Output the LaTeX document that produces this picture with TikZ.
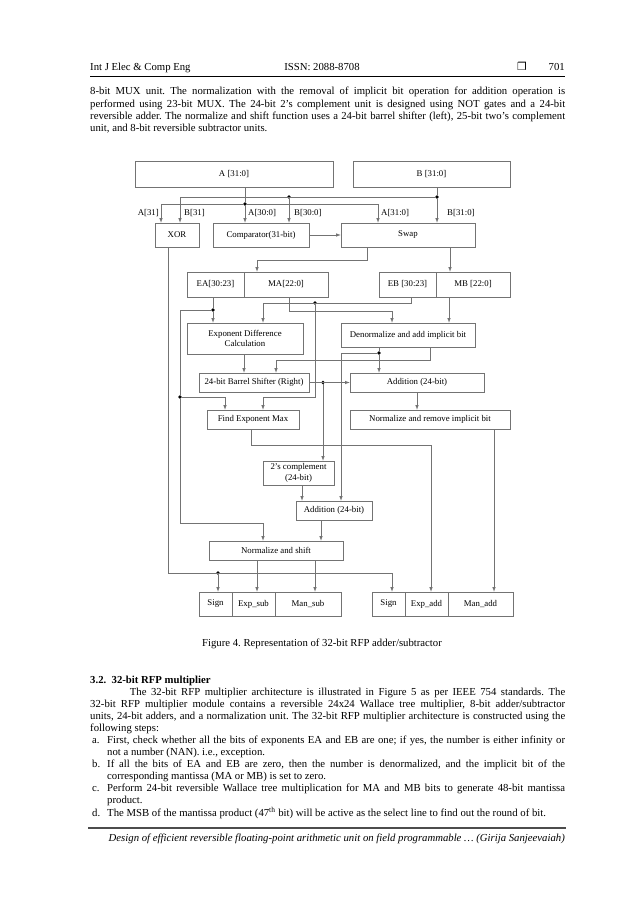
\documentclass[tikz,border=0pt]{standalone}
\usepackage{fontspec}
\setmainfont{Liberation Serif}
\newfontfamily\symf{DejaVu Sans}
\usetikzlibrary{arrows}
\frenchspacing

\def\pxu{0.9326pt}

\begin{document}
\begin{tikzpicture}[x=0.9326pt, y=-0.9326pt,
	blk/.style={draw=black!55, line width=0.5pt, inner sep=1pt, align=center, font=\fontsize{8.2}{9.6}\selectfont},
	lbl/.style={inner sep=0pt, font=\fontsize{8.2}{9.6}\selectfont},
	wire/.style={draw=black!55, line width=0.5pt},
	arr/.style={wire, -latex},
	jdot/.style={circle, fill=black, inner sep=0pt, minimum size=3.3pt},
	txt/.style={inner sep=0pt, font=\fontsize{10}{11.2}\selectfont}]
	\fill [white] (0,0) rectangle (638,902);
	\useasboundingbox (0,0) rectangle (638,902);

	% page header
	\node [txt, anchor=base west] (hleft) at (90,71) {Int J Elec \& Comp Eng};
	\node [txt, anchor=base] (hmid) at (322,71) {ISSN: 2088-8708};
	\node [txt, anchor=base] (hbox) at (522,71) {\symf ❒};
	\node [txt, anchor=base east] (hpage) at (565,71) {701};
	\draw [line width=0.6pt] (hleft.base west |- 0,76) -- (hpage.base east |- 0,76);

	\node [txt, anchor=base west, text width=443pt, align=justify] (para1) at (90,95)
	{8-bit MUX unit. The normalization with the removal of implicit bit operation for addition operation is\linebreak
	performed using 23-bit MUX. The 24-bit 2’s complement unit is designed using NOT gates and a 24-bit\linebreak
	reversible adder. The normalize and shift function uses a 24-bit barrel shifter (left), 25-bit two’s complement\linebreak
	unit, and 8-bit reversible subtractor units.};

	% figure 4 : inputs
	\node [blk, minimum width=198*\pxu, minimum height=26*\pxu] (A) at (234,174) {A [31:0]};
	\node [blk, minimum width=157*\pxu, minimum height=26*\pxu] (B) at (431.5,174) {B [31:0]};
	\node [jdot] (ja) at (245,204) {};
	\node [jdot] (jb) at (437,197) {};
	\node [jdot] (jc) at (289,197) {};

	\node [blk, minimum width=44*\pxu, minimum height=24*\pxu] (XOR) at (177,235) {XOR};
	\node [blk, minimum width=96*\pxu, minimum height=24*\pxu] (cmp) at (261,235) {Comparator(31-bit)};
	\node [blk, minimum width=134*\pxu, minimum height=24*\pxu] (swap) at (408,235) {Swap};

	\draw [wire] (A.south -| ja) -- (ja);
	\draw [arr] (ja) -- (ja |- cmp.north);
	\draw [arr] (ja) -| (XOR.north -| 161,0);
	\draw [arr] (ja) -| (swap.north -| 378,0);
	\draw [wire] (B.south -| jb) -- (jb);
	\draw [arr] (jb) -- (jb |- swap.north);
	\draw [arr] (jb) -| (XOR.north -| 180,0);
	\draw [arr] (jc) -- (jc |- cmp.north);
	\draw [arr] (cmp.east) -- (swap.west);

	\node [lbl, anchor=base east] (la31) at (159,215.5) {A[31]};
	\node [lbl, anchor=base west] (lb31) at (184,215.5) {B[31]};
	\node [lbl, anchor=base west] (la30) at (248,215.5) {A[30:0]};
	\node [lbl, anchor=base west] (lb30) at (294,215.5) {B[30:0]};
	\node [lbl, anchor=base west] (laall) at (381,215.5) {A[31:0]};
	\node [lbl, anchor=base west] (lball) at (447,215.5) {B[31:0]};

	% exponent / mantissa split
	\node [blk, minimum width=57*\pxu, minimum height=25*\pxu] (EA) at (215.5,284.5) {EA[30:23]};
	\node [blk, minimum width=84*\pxu, minimum height=25*\pxu] (MA) at (286,284.5) {MA[22:0]};
	\node [blk, minimum width=57*\pxu, minimum height=25*\pxu] (EB) at (407.5,284.5) {EB [30:23]};
	\node [blk, minimum width=74*\pxu, minimum height=25*\pxu] (MB) at (473,284.5) {MB [22:0]};
	\draw [arr] (swap.south -| 367,0) -- ++(0,13) -| (MA.north -| 257,0);
	\draw [arr] (swap.south -| 450,0) -- (MB.north -| 450,0);

	\node [blk, minimum width=116*\pxu, minimum height=31*\pxu] (expdiff) at (245,338.5) {Exponent Difference\\Calculation};
	\node [blk, minimum width=134*\pxu, minimum height=24*\pxu] (denorm) at (408,335) {Denormalize and add implicit bit};
	\node [jdot] (jd) at (213,310) {};
	\node [jdot] (je) at (180,397) {};
	\node [jdot] (jf) at (315,303) {};

	\draw [wire] (EA.south -| jd) -- (jd);
	\draw [arr] (jd) -- (jd |- expdiff.north);
	\draw [wire] (jd) -| (je);
	\draw [arr] (MA.south -| 289,0) -- ++(0,14) -| (denorm.north -| 392,0);
	\draw [arr] (EB.south -| 411,0) -- ++(0,6) -| (expdiff.north -| 263,0);
	\draw [arr] (MB.south -| 449,0) -- (denorm.north -| 449,0);

	% shifter and adder stage
	\node [blk, minimum width=110*\pxu, minimum height=19*\pxu] (barrel) at (254,382.5) {24-bit Barrel Shifter (Right)};
	\node [blk, minimum width=134*\pxu, minimum height=19*\pxu] (add1) at (417,382.5) {Addition (24-bit)};
	\node [jdot] (jg) at (379,353) {};
	\node [jdot] (jh) at (323,382.5) {};

	\draw [arr] (expdiff.south -| 244,0) -- (barrel.north -| 244,0);
	\draw [arr] (denorm.south -| 430,0) -- ++(0,13) -| (barrel.north -| 276,0);
	\draw [wire] (denorm.south -| jg) -- (jg);
	\draw [arr] (jg) -- (jg |- add1.north);
	\draw [arr] (barrel.east) -- (add1.west);

	\node [blk, minimum width=92*\pxu, minimum height=19*\pxu] (findmax) at (253,419.5) {Find Exponent Max};
	\node [blk, minimum width=160*\pxu, minimum height=19*\pxu] (normrem) at (430,419.5) {Normalize and remove implicit bit};
	\draw [arr] (je) -| (findmax.north -| 225,0);
	\draw [arr] (jf) -- ++(0,94) -| (findmax.north -| 263,0);
	\draw [arr] (add1.south) -- (add1.south |- normrem.north);

	% subtraction path
	\node [blk, minimum width=71*\pxu, minimum height=24*\pxu] (twos) at (298.5,473) {2's complement\\(24-bit)};
	\node [blk, minimum width=76*\pxu, minimum height=19*\pxu] (add2) at (334,510.5) {Addition (24-bit)};
	\node [blk, minimum width=134*\pxu, minimum height=19*\pxu] (normsh) at (276,550.5) {Normalize and shift};
	\draw [arr] (jh) -- (jh |- twos.north);
	\draw [arr] (jg) -| (add2.north -| 341,0);
	\draw [arr] (twos.south -| 302,0) -- (add2.north -| 302,0);
	\draw [arr] (add2.south -| 321,0) -- (normsh.north -| 321,0);
	\draw [arr] (je) -- ++(0,126) -| (normsh.north -| 263,0);

	% outputs
	\node [blk, minimum width=33*\pxu, minimum height=24*\pxu] (sign1) at (215.5,604) {Sign};
	\node [blk, minimum width=43*\pxu, minimum height=24*\pxu] (expsub) at (253.5,604) {Exp\_sub};
	\node [blk, minimum width=66*\pxu, minimum height=24*\pxu] (mansub) at (308,604) {Man\_sub};
	\node [blk, minimum width=33*\pxu, minimum height=24*\pxu] (sign2) at (388.5,604) {Sign};
	\node [blk, minimum width=43*\pxu, minimum height=24*\pxu] (expadd) at (426.5,604) {Exp\_add};
	\node [blk, minimum width=65*\pxu, minimum height=24*\pxu] (manadd) at (480.5,604) {Man\_add};
	\node [jdot] (ji) at (218,573) {};

	\draw [arr] (findmax.south -| 251,0) -- ++(0,16) -| (expadd.north -| 431,0);
	\draw [arr] (normrem.south -| 494,0) -- (manadd.north -| 494,0);
	\draw [arr] (XOR.south -| 168,0) -- ++(0,326) -| (sign2.north -| 392,0);
	\draw [arr] (ji) -- (ji |- sign1.north);
	\draw [arr] (normsh.south -| 257,0) -- (expsub.north -| 257,0);
	\draw [arr] (normsh.south -| 315,0) -- (mansub.north -| 315,0);

	\node [txt, anchor=base] (caption) at (322,646) {Figure 4. Representation of 32-bit RFP adder/subtractor};

	% section 3.2
	\node [txt, anchor=base west] (sechead) at (90,683) {\textbf{3.2.\ \ 32-bit RFP multiplier}};
	\node [txt, anchor=base west, text width=443pt, align=justify] (para2) at (90,695)
	{\hspace*{37pt}The 32-bit RFP multiplier architecture is illustrated in Figure 5 as per IEEE 754 standards. The\linebreak
	32-bit RFP multiplier module contains a reversible 24x24 Wallace tree multiplier, 8-bit adder/subtractor\linebreak
	units, 24-bit adders, and a normalization unit. The 32-bit RFP multiplier architecture is constructed using the\linebreak
	following steps:};

	\node [txt, anchor=base west] (ia) at (92,743) {a.};
	\node [txt, anchor=base west, text width=427pt, align=justify] (sa) at (107,743)
	{First, check whether all the bits of exponents EA and EB are one; if yes, the number is either infinity or\linebreak
	not a number (NAN). i.e., exception.};
	\node [txt, anchor=base west] (ib) at (92,767) {b.};
	\node [txt, anchor=base west, text width=427pt, align=justify] (sb) at (107,767)
	{If all the bits of EA and EB are zero, then the number is denormalized, and the implicit bit of the\linebreak
	corresponding mantissa (MA or MB) is set to zero.};
	\node [txt, anchor=base west] (ic) at (92,791) {c.};
	\node [txt, anchor=base west, text width=427pt, align=justify] (sc) at (107,791)
	{Perform 24-bit reversible Wallace tree multiplication for MA and MB bits to generate 48-bit mantissa\linebreak
	product.};
	\node [txt, anchor=base west] (id) at (92,816) {d.};
	\node [txt, anchor=base west] (sd) at (107,816)
	{The MSB of the mantissa product (47\textsuperscript{th} bit) will be active as the select line to find out the round of bit.};

	% page footer
	\draw [line width=1.4pt, black!70] (88,828) -- (566,828);
	\node [txt, anchor=base east] (foot) at (565,841)
	{\itshape Design of efficient reversible floating-point arithmetic unit on field programmable … (Girija Sanjeevaiah)};
\end{tikzpicture}
\end{document}
